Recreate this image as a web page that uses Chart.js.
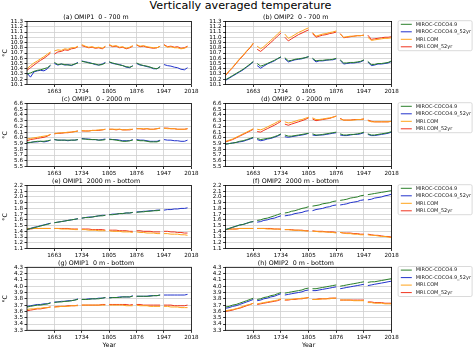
<!DOCTYPE html>
<html><head><meta charset="utf-8">
<script src="https://cdn.jsdelivr.net/npm/chart.js@4.4.1/dist/chart.umd.min.js"></script>
<style>
html,body{margin:0;padding:0;background:#fff;width:474px;height:348px;overflow:hidden;position:relative;font-family:'DejaVu Sans';}
canvas{position:absolute;}
#title{position:absolute;left:0;width:481px;top:-0.5px;text-align:center;font-size:11.2px;line-height:12px;color:#000;white-space:nowrap;}
</style></head><body>
<div id="title">Vertically averaged temperature</div>
<script>
// ---------- data ----------
const seriesNames = ['MIROC-COCO4.9', 'MIROC-COCO4.9_52yr', 'MRI.COM', 'MRI.COM_52yr'];
const seriesColors = ['#2a7f2a', '#2233cc', '#ffa31a', '#f0341e'];
const panelTitles = ['(a) OMIP1  0 - 700 m', '(b) OMIP2  0 - 700 m', '(c) OMIP1  0 - 2000 m', '(d) OMIP2  0 - 2000 m',
  '(e) OMIP1  2000 m - bottom', '(f) OMIP2  2000 m - bottom', '(g) OMIP1  0 m - bottom', '(h) OMIP2  0 m - bottom'];
const xTicks = [1663, 1734, 1805, 1876, 1947, 2018];
const xMin = 1592, xMax = 2018;
const yTicks700 = [10.1,10.2,10.3,10.4,10.5,10.6,10.7,10.8,10.9,11.0,11.1,11.2,11.3];
const yTicks2000 = [5.5,5.6,5.7,5.8,5.9,6.0,6.1,6.2,6.3,6.4,6.5,6.6];
const yTicksDeep = [1.1,1.2,1.3,1.4,1.5,1.6,1.7,1.8,1.9,2.0,2.1,2.2];
const yTicksFull = [3.3,3.4,3.5,3.6,3.7,3.8,3.9,4.0,4.1,4.2,4.3];

const yearsO1 = [1592,1601,1610,1619,1627,1636,1645,1653,null,
 1663,1672,1681,1690,1698,1707,1716,1724,null,
 1734,1743,1752,1761,1769,1778,1787,1795,null,
 1805,1814,1823,1832,1840,1849,1858,1866,null,
 1876,1885,1894,1903,1911,1920,1929,1937,null,
 1947,1956,1965,1974,1982,1991,2000,2008];
const yearsO2 = [1592,1601,1610,1619,1628,1637,1646,1655,1663,null,
 1673,1682,1690,1699,1708,1717,1725,1734,null,
 1744,1753,1761,1770,1779,1788,1796,1805,null,
 1815,1824,1832,1841,1850,1859,1867,1876,null,
 1886,1895,1903,1912,1921,1930,1938,1947,null,
 1957,1966,1974,1983,1992,2001,2009,2018];

// (a) OMIP1 0-700 m
const a_miroc = [10.30,10.32,10.35,10.37,10.38,10.40,10.42,10.47,null,
 10.52,10.48,10.49,10.48,10.47,10.47,10.49,10.51,null,
 10.54,10.53,10.51,10.50,10.49,10.47,10.48,10.51,null,
 10.53,10.51,10.49,10.47,10.46,10.44,10.43,10.45,null,
 10.51,10.48,10.46,10.45,10.43,10.41,10.40,10.44,null,
 null,null,null,null,null,null,null,null];
const a_miroc52 = [10.32,10.24,10.34,10.36,10.37,10.36,10.40,10.46,null,
 10.50,10.47,10.49,10.47,10.48,10.46,10.49,10.52,null,
 10.55,10.53,10.52,10.50,10.48,10.47,10.49,10.52,null,
 10.53,10.50,10.49,10.48,10.46,10.43,10.42,10.46,null,
 10.50,10.47,10.46,10.44,10.43,10.40,10.40,10.44,null,
 10.48,10.46,10.45,10.43,10.42,10.39,10.38,10.42];
const a_mri = [10.40,10.46,10.51,10.55,10.59,10.63,10.68,10.72,null,
 10.74,10.76,10.75,10.78,10.77,10.80,10.80,10.83,null,
 10.86,10.83,10.81,10.82,10.80,10.81,10.79,10.83,null,
 10.86,10.83,10.84,10.81,10.82,10.79,10.81,10.84,null,
 10.86,10.83,10.84,10.82,10.81,10.80,10.80,10.83,null,
 10.85,10.81,10.82,10.80,10.80,10.78,10.79,10.82];
const a_mri52 = [10.37,10.42,10.47,10.52,10.56,10.60,10.65,10.70,null,
 10.68,10.72,10.73,10.76,10.75,10.78,10.79,10.82,null,
 10.84,10.82,10.80,10.81,10.79,10.80,10.78,10.82,null,
 10.85,10.82,10.83,10.80,10.81,10.78,10.80,10.83,null,
 10.85,10.82,10.83,10.81,10.80,10.79,10.80,10.83,null,
 10.86,10.82,10.83,10.81,10.82,10.79,10.80,10.83];

// (b) OMIP2 0-700 m
const b_miroc = [10.19,10.23,10.27,10.31,10.35,10.39,10.44,10.49,10.54,null,
 10.50,10.45,10.47,10.50,10.53,10.56,10.59,10.63,null,
 10.61,10.55,10.56,10.58,10.59,10.60,10.61,10.63,null,
 10.60,10.55,10.56,10.56,10.57,10.57,10.58,10.60,null,
 10.57,10.51,10.51,10.52,10.52,10.53,10.54,10.57,null,
 10.54,10.48,10.48,10.50,10.50,10.51,10.52,10.55];
const b_miroc52 = [10.18,10.22,10.26,10.30,10.34,10.38,10.43,10.48,10.53,null,
 10.46,10.41,10.45,10.49,10.52,10.55,10.59,10.62,null,
 10.59,10.53,10.55,10.57,10.58,10.59,10.61,10.63,null,
 10.59,10.53,10.55,10.55,10.56,10.57,10.57,10.59,null,
 10.56,10.49,10.50,10.51,10.51,10.52,10.53,10.56,null,
 10.53,10.46,10.47,10.49,10.49,10.50,10.51,10.54];
const b_mri = [10.28,10.36,10.43,10.51,10.59,10.66,10.74,10.81,10.89,null,
 10.83,10.78,10.82,10.88,10.94,11.00,11.06,11.12,null,
 11.06,10.98,11.01,11.05,11.09,11.12,11.15,11.18,null,
 11.09,11.02,11.04,11.06,11.07,11.09,11.10,11.12,null,
 11.06,11.00,11.01,11.02,11.02,11.03,11.03,11.04,null,
 11.00,10.94,10.95,10.96,10.97,10.98,10.98,10.99];
const b_mri52 = [10.27,10.35,10.42,10.50,10.58,10.65,10.73,10.80,10.88,null,
 10.77,10.73,10.78,10.84,10.90,10.96,11.02,11.08,null,
 11.00,10.93,10.97,11.01,11.05,11.08,11.11,11.14,null,
 11.07,11.00,11.02,11.04,11.05,11.07,11.08,11.10,null,
 11.07,10.99,11.00,11.01,11.02,11.03,11.03,11.04,null,
 11.04,10.96,10.97,10.98,10.99,11.00,11.00,11.01];

// (c) OMIP1 0-2000 m
const c_miroc = [5.92,5.92,5.93,5.94,5.94,5.94,5.95,5.96,null,
 5.97,5.96,5.96,5.96,5.96,5.96,5.96,5.97,null,
 5.98,5.98,5.97,5.97,5.97,5.96,5.96,5.97,null,
 5.97,5.97,5.96,5.95,5.94,5.94,5.95,5.96,null,
 5.96,5.95,5.95,5.94,5.93,5.93,5.93,5.95,null,
 null,null,null,null,null,null,null,null];
const c_miroc52 = [5.91,5.92,5.93,5.93,5.94,5.93,5.94,5.96,null,
 5.97,5.96,5.96,5.96,5.95,5.96,5.96,5.97,null,
 5.99,5.98,5.98,5.97,5.97,5.96,5.97,5.98,null,
 5.98,5.97,5.97,5.96,5.95,5.95,5.95,5.97,null,
 5.97,5.96,5.96,5.95,5.94,5.94,5.94,5.96,null,
 5.97,5.96,5.96,5.95,5.95,5.94,5.94,5.96];
const c_mri = [5.98,5.99,6.00,6.01,6.02,6.03,6.04,6.06,null,
 6.08,6.08,6.09,6.09,6.10,6.10,6.11,6.12,null,
 6.13,6.12,6.12,6.13,6.13,6.14,6.14,6.15,null,
 6.15,6.15,6.15,6.15,6.14,6.14,6.15,6.15,null,
 6.16,6.16,6.16,6.16,6.15,6.15,6.16,6.17,null,
 6.17,6.16,6.16,6.16,6.15,6.15,6.15,6.16];
const c_mri52 = [5.95,5.97,5.98,5.99,6.00,6.01,6.03,6.06,null,
 6.07,6.08,6.08,6.09,6.09,6.10,6.11,6.12,null,
 6.12,6.12,6.12,6.13,6.13,6.13,6.14,6.15,null,
 6.15,6.15,6.14,6.15,6.14,6.14,6.14,6.15,null,
 6.16,6.16,6.15,6.16,6.15,6.15,6.16,6.17,null,
 6.17,6.17,6.16,6.16,6.15,6.15,6.15,6.16];

// (d) OMIP2 0-2000 m
const d_miroc = [5.89,5.90,5.91,5.92,5.94,5.95,5.97,5.99,6.01,null,
 5.99,5.97,5.98,5.99,6.00,6.02,6.04,6.07,null,
 6.05,6.03,6.03,6.04,6.05,6.06,6.07,6.08,null,
 6.07,6.05,6.05,6.06,6.07,6.08,6.09,6.10,null,
 6.07,6.05,6.05,6.06,6.06,6.07,6.08,6.10,null,
 6.07,6.05,6.05,6.06,6.07,6.08,6.09,6.11];
const d_miroc52 = [5.89,5.90,5.91,5.92,5.93,5.94,5.96,5.98,6.00,null,
 5.97,5.95,5.96,5.98,5.99,6.01,6.03,6.06,null,
 6.02,6.01,6.02,6.03,6.04,6.05,6.06,6.08,null,
 6.05,6.04,6.05,6.05,6.06,6.07,6.08,6.09,null,
 6.05,6.04,6.04,6.05,6.06,6.06,6.07,6.09,null,
 6.06,6.04,6.04,6.05,6.06,6.07,6.08,6.10];
const d_mri = [5.94,5.96,5.98,6.01,6.04,6.07,6.10,6.13,6.16,null,
 6.15,6.14,6.16,6.19,6.22,6.25,6.28,6.31,null,
 6.28,6.26,6.27,6.29,6.31,6.32,6.34,6.36,null,
 6.35,6.32,6.32,6.33,6.34,6.35,6.36,6.38,null,
 6.33,6.31,6.31,6.31,6.31,6.32,6.32,6.33,null,
 6.30,6.28,6.28,6.28,6.28,6.28,6.28,6.29];
const d_mri52 = [5.93,5.95,5.97,6.00,6.03,6.06,6.09,6.12,6.15,null,
 6.11,6.10,6.13,6.16,6.19,6.22,6.25,6.29,null,
 6.24,6.22,6.24,6.26,6.28,6.30,6.32,6.35,null,
 6.33,6.30,6.31,6.32,6.33,6.34,6.36,6.38,null,
 6.34,6.31,6.31,6.31,6.32,6.32,6.32,6.33,null,
 6.31,6.29,6.28,6.28,6.28,6.28,6.28,6.29];

// (e) OMIP1 2000 m - bottom
const e_miroc = [1.43,1.45,1.46,1.48,1.49,1.51,1.52,1.54,null,
 1.55,1.56,1.57,1.58,1.59,1.60,1.61,1.62,null,
 1.63,1.64,1.64,1.65,1.66,1.67,1.67,1.68,null,
 1.69,1.69,1.70,1.71,1.71,1.72,1.72,1.73,null,
 1.73,1.74,1.74,1.75,1.75,1.76,1.76,1.77,null,
 null,null,null,null,null,null,null,null];
const e_miroc52 = [1.43,1.45,1.47,1.48,1.50,1.51,1.53,1.54,null,
 1.55,1.56,1.57,1.58,1.59,1.60,1.61,1.62,null,
 1.63,1.64,1.65,1.65,1.66,1.67,1.68,1.68,null,
 1.69,1.70,1.70,1.71,1.71,1.72,1.72,1.73,null,
 1.74,1.74,1.75,1.75,1.76,1.76,1.77,1.77,null,
 1.77,1.78,1.78,1.79,1.79,1.80,1.80,1.81];
const e_mri = [1.45,1.45,1.45,1.45,1.45,1.45,1.45,1.45,null,
 1.45,1.45,1.44,1.44,1.44,1.44,1.43,1.43,null,
 1.43,1.43,1.42,1.42,1.42,1.41,1.41,1.41,null,
 1.41,1.40,1.40,1.40,1.39,1.39,1.39,1.38,null,
 1.39,1.38,1.38,1.37,1.37,1.37,1.36,1.36,null,
 1.36,1.36,1.35,1.35,1.35,1.34,1.34,1.33];
const e_mri52 = [1.44,1.44,1.45,1.45,1.45,1.45,1.45,1.45,null,
 1.45,1.45,1.45,1.45,1.45,1.44,1.44,1.44,null,
 1.44,1.44,1.44,1.43,1.43,1.43,1.43,1.42,null,
 1.42,1.42,1.42,1.41,1.41,1.41,1.40,1.40,null,
 1.41,1.41,1.40,1.40,1.40,1.39,1.39,1.39,null,
 1.40,1.40,1.39,1.39,1.38,1.38,1.37,1.37];

// (f) OMIP2 2000 m - bottom
const f_miroc = [1.43,1.45,1.47,1.49,1.51,1.52,1.54,1.56,1.57,null,
 1.59,1.60,1.62,1.63,1.65,1.67,1.69,1.71,null,
 1.72,1.73,1.75,1.76,1.78,1.80,1.81,1.83,null,
 1.84,1.85,1.86,1.88,1.89,1.90,1.92,1.93,null,
 1.94,1.95,1.96,1.98,1.99,2.00,2.02,2.03,null,
 2.04,2.05,2.06,2.07,2.08,2.09,2.10,2.11];
const f_miroc52 = [1.43,1.45,1.47,1.49,1.51,1.52,1.54,1.56,1.57,null,
 1.56,1.57,1.59,1.60,1.62,1.63,1.65,1.67,null,
 1.67,1.68,1.69,1.71,1.72,1.73,1.75,1.76,null,
 1.76,1.78,1.79,1.80,1.82,1.83,1.85,1.86,null,
 1.86,1.87,1.88,1.90,1.91,1.92,1.94,1.95,null,
 1.95,1.96,1.98,1.99,2.00,2.02,2.03,2.05];
const f_mri = [1.43,1.44,1.44,1.44,1.45,1.45,1.45,1.45,1.45,null,
 1.45,1.45,1.45,1.44,1.44,1.44,1.44,1.43,null,
 1.43,1.43,1.42,1.42,1.42,1.41,1.41,1.40,null,
 1.40,1.40,1.39,1.39,1.39,1.38,1.38,1.37,null,
 1.38,1.37,1.36,1.36,1.35,1.35,1.34,1.34,null,
 1.34,1.33,1.33,1.32,1.31,1.31,1.30,1.29];
const f_mri52 = [1.43,1.44,1.44,1.44,1.45,1.45,1.45,1.45,1.45,null,
 1.45,1.45,1.45,1.45,1.45,1.44,1.44,1.44,null,
 1.43,1.43,1.43,1.42,1.42,1.42,1.41,1.41,null,
 1.41,1.40,1.40,1.40,1.39,1.39,1.39,1.38,null,
 1.38,1.37,1.37,1.37,1.36,1.36,1.35,1.35,null,
 1.35,1.34,1.33,1.33,1.32,1.31,1.31,1.30];

// (g) OMIP1 0 m - bottom
const g_miroc = [3.67,3.68,3.69,3.70,3.70,3.71,3.72,3.73,null,
 3.74,3.75,3.75,3.76,3.76,3.77,3.78,3.79,null,
 3.79,3.79,3.79,3.80,3.80,3.80,3.81,3.82,null,
 3.81,3.82,3.82,3.82,3.83,3.83,3.83,3.84,null,
 3.84,3.84,3.84,3.84,3.84,3.85,3.85,3.86,null,
 null,null,null,null,null,null,null,null];
const g_miroc52 = [3.68,3.69,3.70,3.71,3.71,3.72,3.72,3.74,null,
 3.75,3.75,3.76,3.76,3.77,3.77,3.78,3.80,null,
 3.79,3.79,3.80,3.80,3.80,3.81,3.81,3.82,null,
 3.82,3.82,3.82,3.83,3.83,3.83,3.83,3.85,null,
 3.84,3.84,3.84,3.84,3.85,3.85,3.85,3.86,null,
 3.86,3.86,3.86,3.86,3.86,3.86,3.86,3.87];
const g_mri = [3.63,3.64,3.64,3.65,3.65,3.66,3.66,3.67,null,
 3.67,3.67,3.68,3.68,3.68,3.69,3.69,3.69,null,
 3.70,3.70,3.70,3.70,3.70,3.70,3.70,3.70,null,
 3.70,3.70,3.70,3.70,3.70,3.69,3.69,3.69,null,
 3.70,3.69,3.69,3.69,3.68,3.68,3.68,3.68,null,
 3.68,3.68,3.67,3.67,3.67,3.66,3.66,3.66];
const g_mri52 = [3.61,3.62,3.63,3.64,3.64,3.65,3.66,3.67,null,
 3.67,3.68,3.68,3.68,3.69,3.69,3.69,3.70,null,
 3.70,3.70,3.70,3.70,3.70,3.70,3.71,3.71,null,
 3.71,3.71,3.71,3.71,3.71,3.71,3.70,3.71,null,
 3.71,3.71,3.70,3.70,3.70,3.70,3.70,3.70,null,
 3.70,3.70,3.70,3.69,3.69,3.69,3.69,3.70];

// (h) OMIP2 0 m - bottom
const h_miroc = [3.67,3.68,3.70,3.71,3.73,3.75,3.77,3.79,3.81,null,
 3.79,3.80,3.82,3.83,3.85,3.86,3.88,3.90,null,
 3.89,3.90,3.91,3.92,3.93,3.94,3.96,3.97,null,
 3.96,3.96,3.97,3.98,3.99,4.00,4.01,4.02,null,
 4.00,4.01,4.02,4.03,4.04,4.05,4.06,4.07,null,
 4.06,4.07,4.07,4.08,4.09,4.10,4.11,4.12];
const h_miroc52 = [3.65,3.66,3.68,3.69,3.71,3.73,3.75,3.77,3.79,null,
 3.77,3.78,3.80,3.81,3.83,3.84,3.86,3.88,null,
 3.86,3.87,3.88,3.89,3.90,3.91,3.93,3.94,null,
 3.93,3.93,3.94,3.95,3.96,3.97,3.98,3.99,null,
 3.96,3.97,3.98,3.99,4.00,4.01,4.02,4.03,null,
 4.01,4.02,4.03,4.04,4.05,4.06,4.07,4.08];
const h_mri = [3.61,3.62,3.63,3.64,3.66,3.68,3.70,3.71,3.73,null,
 3.72,3.73,3.74,3.75,3.76,3.77,3.78,3.80,null,
 3.78,3.79,3.79,3.80,3.80,3.81,3.81,3.82,null,
 3.79,3.79,3.79,3.80,3.80,3.80,3.81,3.81,null,
 3.78,3.78,3.78,3.78,3.77,3.77,3.77,3.77,null,
 3.74,3.74,3.73,3.73,3.73,3.72,3.72,3.72];
const h_mri52 = [3.60,3.61,3.62,3.64,3.65,3.67,3.69,3.71,3.73,null,
 3.71,3.72,3.73,3.74,3.75,3.76,3.77,3.79,null,
 3.78,3.78,3.79,3.79,3.80,3.80,3.81,3.82,null,
 3.79,3.79,3.80,3.80,3.80,3.81,3.81,3.81,null,
 3.78,3.78,3.78,3.78,3.78,3.78,3.78,3.78,null,
 3.75,3.75,3.74,3.74,3.74,3.73,3.73,3.73];

// ---------- layout ----------
const FONT = 'DejaVu Sans';
Chart.defaults.font.family = FONT;
Chart.defaults.color = '#000';

const cols = [
  {plotL: 27, plotR: 192, canvasL: 0, canvasR: 200, yTitle: true, legend: false},
  {plotL: 225.6, plotR: 391.6, canvasL: 200, canvasR: 474, yTitle: false, legend: true}
];
const rowTops = [21.5, 103.5, 185.5, 267.3];
const plotH = 63;
const titleSize = 6.3, titleLH = titleSize * 1.2;
const tickSize = 5.6;

const panels = [
  {years: yearsO1, series: [a_miroc, a_miroc52, a_mri, a_mri52], yt: yTicks700},
  {years: yearsO2, series: [b_miroc, b_miroc52, b_mri, b_mri52], yt: yTicks700},
  {years: yearsO1, series: [c_miroc, c_miroc52, c_mri, c_mri52], yt: yTicks2000},
  {years: yearsO2, series: [d_miroc, d_miroc52, d_mri, d_mri52], yt: yTicks2000},
  {years: yearsO1, series: [e_miroc, e_miroc52, e_mri, e_mri52], yt: yTicksDeep},
  {years: yearsO2, series: [f_miroc, f_miroc52, f_mri, f_mri52], yt: yTicksDeep},
  {years: yearsO1, series: [g_miroc, g_miroc52, g_mri, g_mri52], yt: yTicksFull},
  {years: yearsO2, series: [h_miroc, h_miroc52, h_mri, h_mri52], yt: yTicksFull}
];

const framePlugin = {
  id: 'frame',
  afterDatasetsDraw(chart) {
    const {ctx, chartArea: a} = chart;
    ctx.save();
    ctx.strokeStyle = '#000';
    ctx.lineWidth = 0.8;
    ctx.strokeRect(a.left, a.top, a.right - a.left, a.bottom - a.top);
    ctx.restore();
  }
};

const lineLegend = {
  id: 'lineLegend',
  afterDraw(chart, args, opts) {
    if (!opts || !opts.show) return;
    const {ctx, chartArea: a} = chart;
    const bx = a.right + 6.5, by = a.top - 0.8, bw = 74, bh = 30, r = 1.5;
    ctx.save();
    ctx.beginPath();
    ctx.moveTo(bx + r, by);
    ctx.lineTo(bx + bw - r, by); ctx.quadraticCurveTo(bx + bw, by, bx + bw, by + r);
    ctx.lineTo(bx + bw, by + bh - r); ctx.quadraticCurveTo(bx + bw, by + bh, bx + bw - r, by + bh);
    ctx.lineTo(bx + r, by + bh); ctx.quadraticCurveTo(bx, by + bh, bx, by + bh - r);
    ctx.lineTo(bx, by + r); ctx.quadraticCurveTo(bx, by, bx + r, by);
    ctx.closePath();
    ctx.fillStyle = 'rgba(255,255,255,0.8)';
    ctx.fill();
    ctx.strokeStyle = '#d0d0d0';
    ctx.lineWidth = 0.8;
    ctx.stroke();
    chart.data.datasets.forEach((ds, i) => {
      const y = a.top + 2.8 + i * 7.5;
      ctx.strokeStyle = ds.borderColor;
      ctx.lineWidth = 1;
      ctx.beginPath(); ctx.moveTo(a.right + 9.2, y); ctx.lineTo(a.right + 20.2, y); ctx.stroke();
      ctx.fillStyle = '#222';
      ctx.font = '5px "' + FONT + '"';
      ctx.textBaseline = 'middle';
      ctx.textAlign = 'left';
      ctx.fillText(ds.label, a.right + 24.2, y);
    });
    ctx.restore();
  }
};

panels.forEach((p, idx) => {
  const col = cols[idx % 2];
  const row = Math.floor(idx / 2);
  const bottomRow = row === 3;
  const plotTop = rowTops[row];
  const cT = Math.floor(plotTop - 9);
  const titlePadTop = plotTop - cT - titleLH;
  const xAxisH = bottomRow ? 18.5 : 12;
  const needH = plotTop - cT + plotH + xAxisH;
  const cH = Math.ceil(needH);
  const padBottom = cH - needH;
  const cW = col.canvasR - col.canvasL;

  const cv = document.createElement('canvas');
  cv.width = cW; cv.height = cH;
  cv.style.left = col.canvasL + 'px';
  cv.style.top = cT + 'px';
  cv.style.width = cW + 'px';
  cv.style.height = cH + 'px';
  document.body.appendChild(cv);

  const datasets = p.series.map((vals, si) => ({
    label: seriesNames[si],
    data: p.years.map((yr, i) => ({x: yr, y: vals[i]})),
    borderColor: seriesColors[si],
    backgroundColor: seriesColors[si],
    borderWidth: 1,
    pointRadius: 0,
    tension: 0,
    fill: false,
    spanGaps: false
  }));

  new Chart(cv, {
    type: 'line',
    data: {datasets},
    plugins: [framePlugin, lineLegend],
    options: {
      responsive: false,
      animation: false,
      devicePixelRatio: 1,
      layout: {padding: {left: 0, top: 0, right: col.canvasR - col.plotR, bottom: padBottom}},
      plugins: {
        legend: {display: false},
        tooltip: {enabled: false},
        title: {
          display: true, text: panelTitles[idx], color: '#000',
          font: {size: titleSize, weight: 'normal', lineHeight: 1.2, family: FONT},
          padding: {top: titlePadTop, bottom: 0}
        },
        lineLegend: {show: col.legend}
      },
      scales: {
        x: {
          type: 'linear', min: xMin, max: xMax,
          afterBuildTicks: (s) => { s.ticks = xTicks.map(v => ({value: v})); },
          afterFit: (s) => { s.height = xAxisH; },
          ticks: {autoSkip: false, maxRotation: 0, padding: 1.5, font: {size: tickSize}, color: '#000',
                  callback: (v) => String(v)},
          grid: {color: '#cfcfcf', lineWidth: 0.8, tickLength: 2.5, tickColor: '#000', tickWidth: 0.8},
          border: {display: false},
          title: {display: bottomRow, text: 'Year', color: '#000', font: {size: titleSize, family: FONT}, padding: {top: 0, bottom: 0}}
        },
        y: {
          type: 'linear', min: p.yt[0], max: p.yt[p.yt.length - 1],
          afterBuildTicks: (s) => { s.ticks = p.yt.map(v => ({value: v})); },
          afterFit: (s) => { s.width = col.plotL - col.canvasL; },
          ticks: {autoSkip: false, padding: 1.5, font: {size: tickSize}, color: '#000',
                  callback: (v) => Number(v).toFixed(1)},
          grid: {color: '#cfcfcf', lineWidth: 0.8, tickLength: 2.5, tickColor: '#000', tickWidth: 0.8},
          border: {display: false},
          title: {display: col.yTitle, text: '°C', color: '#000', font: {size: titleSize, family: FONT}, padding: {top: 1.7, bottom: 0}}
        }
      }
    }
  });
});
</script></body></html>
